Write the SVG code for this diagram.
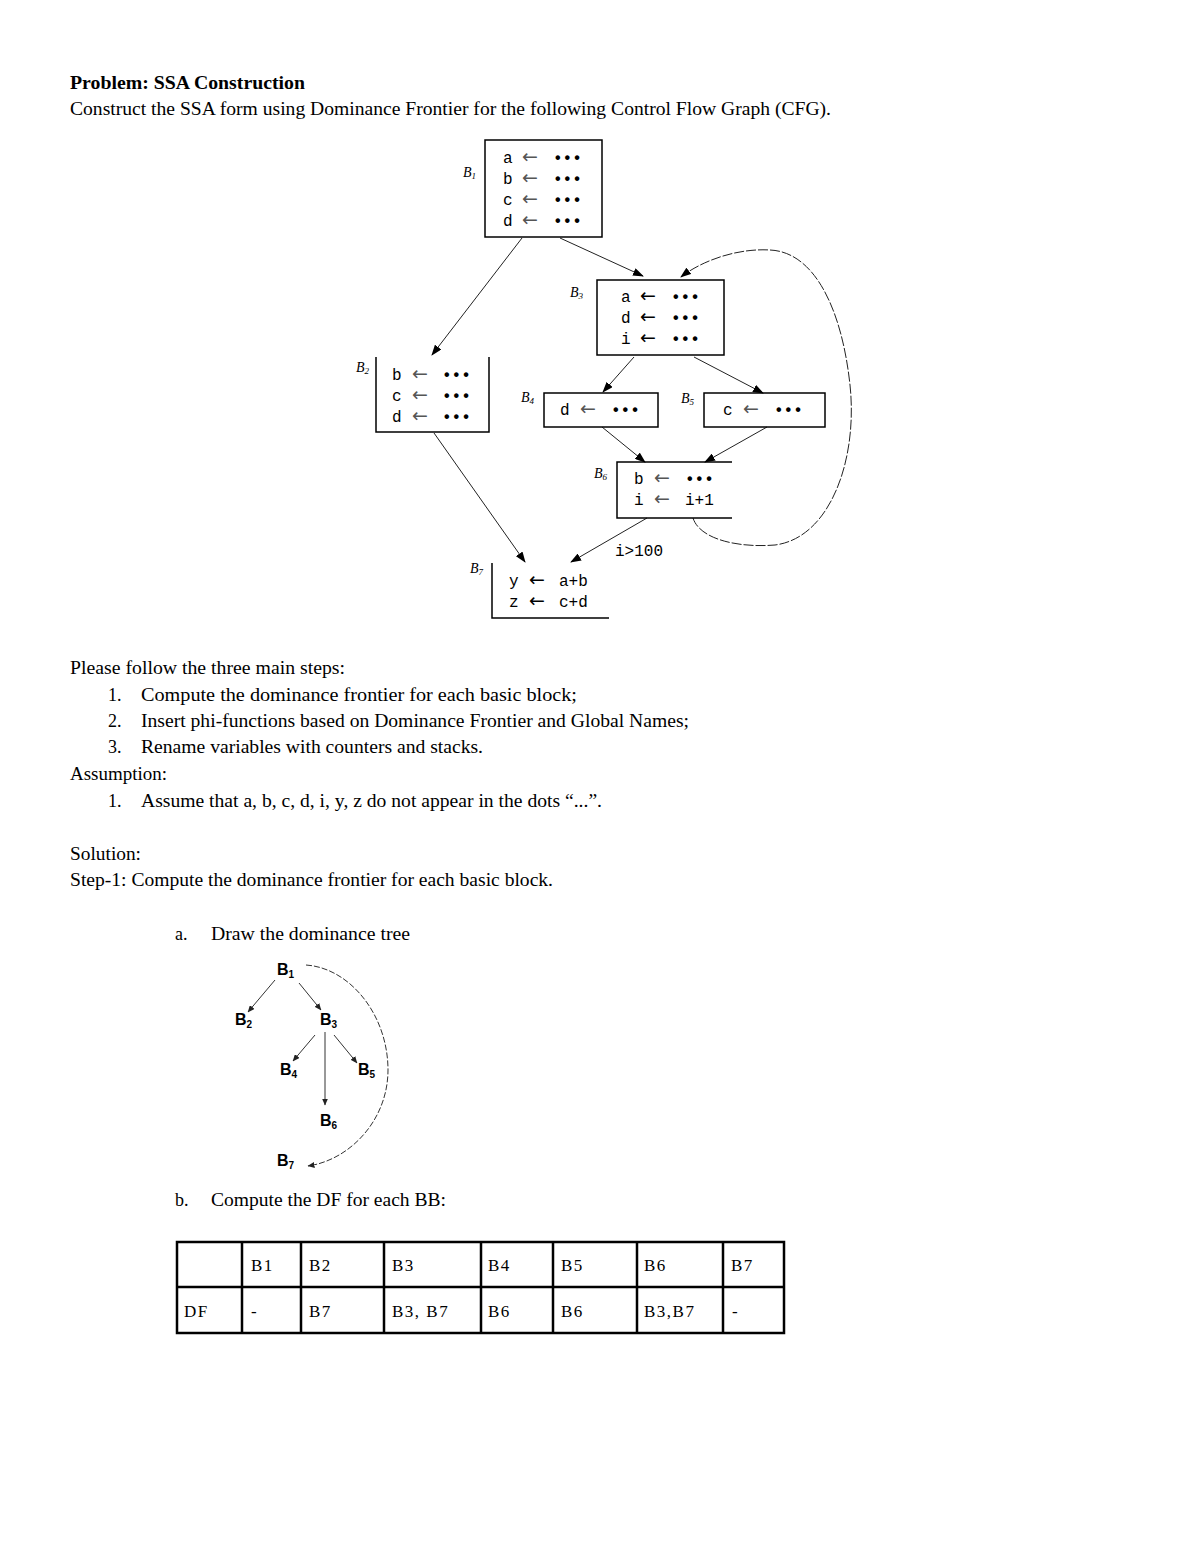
<svg xmlns="http://www.w3.org/2000/svg" width="1200" height="1553" viewBox="0 0 1200 1553">
<style>
.body{font-family:"Liberation Serif","Times New Roman",serif;font-size:18px;fill:#000}
.bold{font-weight:bold}
.code{font-family:"Liberation Mono","Courier New",monospace;font-size:16px;fill:#000}
.arr{font-family:"DejaVu Sans","Liberation Serif",sans-serif;font-size:19px}
.dots{font-weight:bold}
.lbl{font-family:"Liberation Serif","Times New Roman",serif;font-style:italic;font-size:14px;fill:#000}
.sub{font-size:9px}
.box{fill:none;stroke:#000;stroke-width:1.5}
.edge{fill:none;stroke:#222;stroke-width:1}
.dash{fill:none;stroke:#222;stroke-width:1;stroke-dasharray:10 2}
.tlab{font-family:"Liberation Sans",Arial,sans-serif;font-weight:bold;font-size:16px;fill:#000}
.tsub{font-size:10px}
.tedge{fill:none;stroke:#333;stroke-width:1}
.tdash{fill:none;stroke:#333;stroke-width:1;stroke-dasharray:6 2}
.cell{font-family:"Liberation Serif","Times New Roman",serif;font-size:17px;letter-spacing:1.5px;fill:#000}
.grid{fill:none;stroke:#000;stroke-width:2.5}
</style>
<defs>
<marker id="ah" markerUnits="userSpaceOnUse" markerWidth="11" markerHeight="8" refX="10" refY="4" orient="auto">
<path d="M0,0 L11,4 L0,8 z" fill="#000"/>
</marker>
<marker id="ahs" markerUnits="userSpaceOnUse" markerWidth="7" markerHeight="6" refX="6.5" refY="3" orient="auto">
<path d="M0,0 L7,3 L0,6 z" fill="#222"/>
</marker>
</defs>
<rect width="1200" height="1553" fill="#fff"/>

<g id="text">
<text class="body bold" x="70" y="89" textLength="235" lengthAdjust="spacingAndGlyphs">Problem: SSA Construction</text>
<text class="body" x="70" y="115" textLength="761" lengthAdjust="spacingAndGlyphs">Construct the SSA form using Dominance Frontier for the following Control Flow Graph (CFG).</text>
<text class="body" x="70" y="674" textLength="275" lengthAdjust="spacingAndGlyphs">Please follow the three main steps:</text>
<text class="body" x="108" y="701">1.</text>
<text class="body" x="141" y="701" textLength="436" lengthAdjust="spacingAndGlyphs">Compute the dominance frontier for each basic block;</text>
<text class="body" x="108" y="727">2.</text>
<text class="body" x="141" y="727" textLength="548" lengthAdjust="spacingAndGlyphs">Insert phi-functions based on Dominance Frontier and Global Names;</text>
<text class="body" x="108" y="753">3.</text>
<text class="body" x="141" y="753" textLength="342" lengthAdjust="spacingAndGlyphs">Rename variables with counters and stacks.</text>
<text class="body" x="70" y="780" textLength="97" lengthAdjust="spacingAndGlyphs">Assumption:</text>
<text class="body" x="108" y="807">1.</text>
<text class="body" x="141" y="807" textLength="461" lengthAdjust="spacingAndGlyphs">Assume that a, b, c, d, i, y, z do not appear in the dots “...”.</text>
<text class="body" x="70" y="860" textLength="71" lengthAdjust="spacingAndGlyphs">Solution:</text>
<text class="body" x="70" y="886" textLength="483" lengthAdjust="spacingAndGlyphs">Step-1: Compute the dominance frontier for each basic block.</text>
<text class="body" x="175" y="940">a.</text>
<text class="body" x="211" y="940" textLength="199" lengthAdjust="spacingAndGlyphs">Draw the dominance tree</text>
<text class="body" x="175" y="1206">b.</text>
<text class="body" x="211" y="1206" textLength="235" lengthAdjust="spacingAndGlyphs">Compute the DF for each BB:</text>
</g>

<g id="cfg-edges">
<path class="edge" d="M522,238 L432,355" marker-end="url(#ah)"/>
<path class="edge" d="M560,238 L643,276" marker-end="url(#ah)"/>
<path class="edge" d="M634,357 L603,392" marker-end="url(#ah)"/>
<path class="edge" d="M694,357 L763,393" marker-end="url(#ah)"/>
<path class="edge" d="M602,427 L645,462" marker-end="url(#ah)"/>
<path class="edge" d="M767,427 L705,462" marker-end="url(#ah)"/>
<path class="edge" d="M434,433 L525,562" marker-end="url(#ah)"/>
<path class="edge" d="M647,518 L571,562" marker-end="url(#ah)"/>
<path class="dash" d="M693,518 C700,540 740,548 775,545 C830,538 858,460 850,385 C842,310 815,252 770,250 C735,248 700,262 681,277" marker-end="url(#ah)"/>
<text class="code" x="615" y="556">i&gt;100</text>
</g>

<g id="B1">
<rect class="box" x="485" y="140" width="117" height="97"/>
<text class="lbl" x="463" y="177">B<tspan class="sub" dy="2">1</tspan></text>
<text class="code" y="163"><tspan x="503">a</tspan><tspan class="arr" x="522" fill="#555">←</tspan><tspan class="dots" x="553">•••</tspan></text>
<text class="code" y="184"><tspan x="503">b</tspan><tspan class="arr" x="522" fill="#555">←</tspan><tspan class="dots" x="553">•••</tspan></text>
<text class="code" y="205"><tspan x="503">c</tspan><tspan class="arr" x="522" fill="#555">←</tspan><tspan class="dots" x="553">•••</tspan></text>
<text class="code" y="226"><tspan x="503">d</tspan><tspan class="arr" x="522" fill="#555">←</tspan><tspan class="dots" x="553">•••</tspan></text>
</g>

<g id="B2">
<path class="box" d="M376,357 L376,432 L489,432 L489,357"/>
<text class="lbl" x="356" y="372">B<tspan class="sub" dy="2">2</tspan></text>
<text class="code" y="380"><tspan x="392">b</tspan><tspan class="arr" x="412" fill="#555">←</tspan><tspan class="dots" x="442">•••</tspan></text>
<text class="code" y="401"><tspan x="392">c</tspan><tspan class="arr" x="412" fill="#555">←</tspan><tspan class="dots" x="442">•••</tspan></text>
<text class="code" y="422"><tspan x="392">d</tspan><tspan class="arr" x="412" fill="#555">←</tspan><tspan class="dots" x="442">•••</tspan></text>
</g>

<g id="B3">
<rect class="box" x="597" y="280" width="127" height="75"/>
<text class="lbl" x="570" y="297">B<tspan class="sub" dy="2">3</tspan></text>
<text class="code" y="302"><tspan x="621">a</tspan><tspan class="arr" x="640">←</tspan><tspan class="dots" x="671">•••</tspan></text>
<text class="code" y="323"><tspan x="621">d</tspan><tspan class="arr" x="640">←</tspan><tspan class="dots" x="671">•••</tspan></text>
<text class="code" y="344"><tspan x="621">i</tspan><tspan class="arr" x="640">←</tspan><tspan class="dots" x="671">•••</tspan></text>
</g>

<g id="B4">
<rect class="box" x="544" y="393" width="114" height="34"/>
<text class="lbl" x="521" y="402">B<tspan class="sub" dy="2">4</tspan></text>
<text class="code" y="415"><tspan x="560">d</tspan><tspan class="arr" x="580" fill="#555">←</tspan><tspan class="dots" x="611">•••</tspan></text>
</g>

<g id="B5">
<rect class="box" x="704" y="393" width="121" height="34"/>
<text class="lbl" x="681" y="403">B<tspan class="sub" dy="2">5</tspan></text>
<text class="code" y="415"><tspan x="723">c</tspan><tspan class="arr" x="743" fill="#555">←</tspan><tspan class="dots" x="774">•••</tspan></text>
</g>

<g id="B6">
<path class="box" d="M732,462 L617,462 L617,518 L732,518"/>
<text class="lbl" x="594" y="478">B<tspan class="sub" dy="2">6</tspan></text>
<text class="code" y="484"><tspan x="634">b</tspan><tspan class="arr" x="654" fill="#555">←</tspan><tspan class="dots" x="685">•••</tspan></text>
<text class="code" y="505"><tspan x="634">i</tspan><tspan class="arr" x="654" fill="#555">←</tspan><tspan x="685">i+1</tspan></text>
</g>

<g id="B7">
<path class="box" d="M492,563 L492,618 L609,618"/>
<text class="lbl" x="470" y="573">B<tspan class="sub" dy="2">7</tspan></text>
<text class="code" y="586"><tspan x="509">y</tspan><tspan class="arr" x="529">←</tspan><tspan x="559">a+b</tspan></text>
<text class="code" y="607"><tspan x="509">z</tspan><tspan class="arr" x="529">←</tspan><tspan x="559">c+d</tspan></text>
</g>

<g id="domtree-edges">
<path class="tedge" d="M275,980 L248,1012" marker-end="url(#ahs)"/>
<path class="tedge" d="M299,983 L321,1010" marker-end="url(#ahs)"/>
<path class="tedge" d="M315,1035 L293,1061" marker-end="url(#ahs)"/>
<path class="tedge" d="M334,1035 L357,1063" marker-end="url(#ahs)"/>
<path class="tedge" d="M325,1032 L325,1105" marker-end="url(#ahs)"/>
<path class="tdash" d="M306,965 C350,968 388,1015 388,1070 C388,1120 350,1160 308,1166" marker-end="url(#ahs)"/>
</g>
<g id="T1"><text class="tlab" x="277" y="975">B<tspan class="tsub" dy="3">1</tspan></text></g>
<g id="T2"><text class="tlab" x="235" y="1025">B<tspan class="tsub" dy="3">2</tspan></text></g>
<g id="T3"><text class="tlab" x="320" y="1025">B<tspan class="tsub" dy="3">3</tspan></text></g>
<g id="T4"><text class="tlab" x="280" y="1075">B<tspan class="tsub" dy="3">4</tspan></text></g>
<g id="T5"><text class="tlab" x="358" y="1075">B<tspan class="tsub" dy="3">5</tspan></text></g>
<g id="T6"><text class="tlab" x="320" y="1126">B<tspan class="tsub" dy="3">6</tspan></text></g>
<g id="T7"><text class="tlab" x="277" y="1166">B<tspan class="tsub" dy="3">7</tspan></text></g>

<g id="table">
<rect class="grid" x="177" y="1242" width="607" height="91"/>
<path class="grid" d="M177,1287 H784 M242,1242 V1333 M301,1242 V1333 M384,1242 V1333 M481,1242 V1333 M553,1242 V1333 M637,1242 V1333 M723,1242 V1333"/>
<text class="cell" x="251" y="1271">B1</text>
<text class="cell" x="309" y="1271">B2</text>
<text class="cell" x="392" y="1271">B3</text>
<text class="cell" x="488" y="1271">B4</text>
<text class="cell" x="561" y="1271">B5</text>
<text class="cell" x="644" y="1271">B6</text>
<text class="cell" x="731" y="1271">B7</text>
<text class="cell" x="184" y="1317">DF</text>
<text class="cell" x="251" y="1317">-</text>
<text class="cell" x="309" y="1317">B7</text>
<text class="cell" x="392" y="1317">B3, B7</text>
<text class="cell" x="488" y="1317">B6</text>
<text class="cell" x="561" y="1317">B6</text>
<text class="cell" x="644" y="1317">B3,B7</text>
<text class="cell" x="732" y="1317">-</text>
</g>
</svg>
